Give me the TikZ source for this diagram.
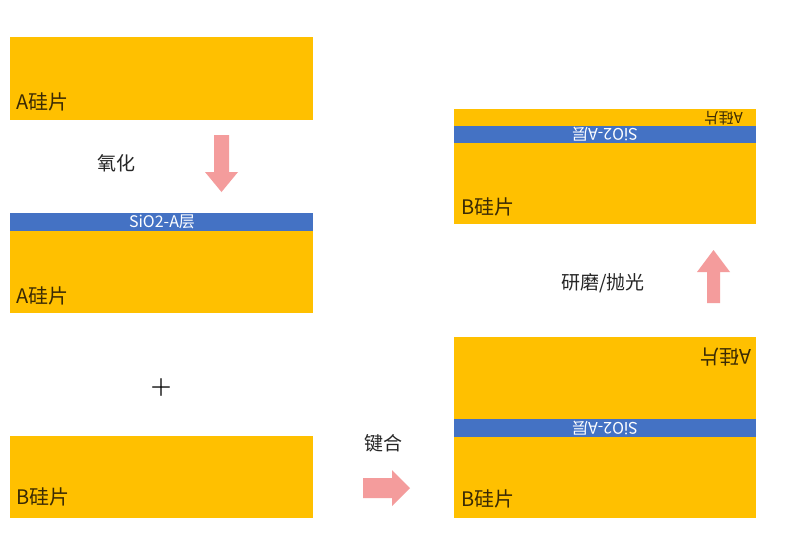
\documentclass[tikz,border=0pt]{standalone}
\usepackage{fontspec}
\newfontfamily\cjk{Noto Sans CJK SC}
\definecolor{wafer}{HTML}{FFC000}
\definecolor{oxide}{HTML}{4472C4}
\definecolor{arrowpink}{HTML}{F49C9C}
\definecolor{labelbrown}{HTML}{3A2A05}
\begin{document}
\begin{tikzpicture}[x=1pt,y=-1pt,
  waferbox/.style={fill=wafer,draw=none},
  oxidebox/.style={fill=oxide,draw=none},
  waferlabel/.style={font=\cjk\fontsize{20}{20}\selectfont,text=labelbrown,inner sep=0pt},
  oxidelabel/.style={font=\cjk\fontsize{16}{16}\selectfont,text=white,inner sep=0pt},
  steplabel/.style={font=\cjk\fontsize{19}{19}\selectfont,text=black!85,inner sep=0pt},
  blockarrow/.style={fill=arrowpink,draw=none}]
\useasboundingbox (0,0) rectangle (800,544);
\fill[white] (0,0) rectangle (800,544);
% wafer A
\fill[waferbox] (10,37) rectangle (313,120);
\node[waferlabel,anchor=west] (a1) at (16,102) {A硅片};
% oxidised A
\fill[waferbox] (10,231) rectangle (313,313);
\fill[oxidebox] (10,213) rectangle (313,231);
\node[oxidelabel] (ox1) at (162,222) {SiO2-A层};
\node[waferlabel,anchor=west] (a2) at (16,296) {A硅片};
% plus
\node[font=\bfseries\fontsize{24}{24}\selectfont,inner sep=0pt] (plus) at (161,388) {+};
% wafer B
\fill[waferbox] (10,436) rectangle (313,518);
\node[waferlabel,anchor=west] (b1) at (16,497) {B硅片};
% bonded stack
\fill[waferbox] (454,337) rectangle (756,518);
\fill[oxidebox] (454,419) rectangle (756,437);
\node[oxidelabel,rotate=180] (ox2) at (605,428) {SiO2-A层};
\node[waferlabel,rotate=180,anchor=west] (a3) at (752,357) {A硅片};
\node[waferlabel,anchor=west] (b2) at (461,499) {B硅片};
% thinned stack
\fill[waferbox] (454,109) rectangle (756,224);
\fill[oxidebox] (454,126) rectangle (756,143);
\node[oxidelabel,rotate=180] (ox3) at (605,134) {SiO2-A层};
\begin{scope}
\clip (454,109) rectangle (756,126);
\node[waferlabel,rotate=180,anchor=west,font=\cjk\fontsize{15}{15}\selectfont] (a4) at (743,118) {A硅片};
\end{scope}
\node[waferlabel,anchor=west] (b3) at (461,207) {B硅片};
% step arrows
\fill[blockarrow] (214,135) -- (229,135) -- (229,172) -- (238,172) -- (221.5,192) -- (205,172) -- (214,172) -- cycle;
\node[steplabel] (s1) at (116,163) {氧化};
\fill[blockarrow] (363,478) -- (392,478) -- (392,470) -- (410,488) -- (392,506) -- (392,498) -- (363,498) -- cycle;
\node[steplabel] (s2) at (383,443) {键合};
\fill[blockarrow] (707,303) -- (720,303) -- (720,272) -- (730,272) -- (713.5,250) -- (697,272) -- (707,272) -- cycle;
\node[steplabel] (s3) at (603,283) {研磨/抛光};
\end{tikzpicture}
\end{document}
